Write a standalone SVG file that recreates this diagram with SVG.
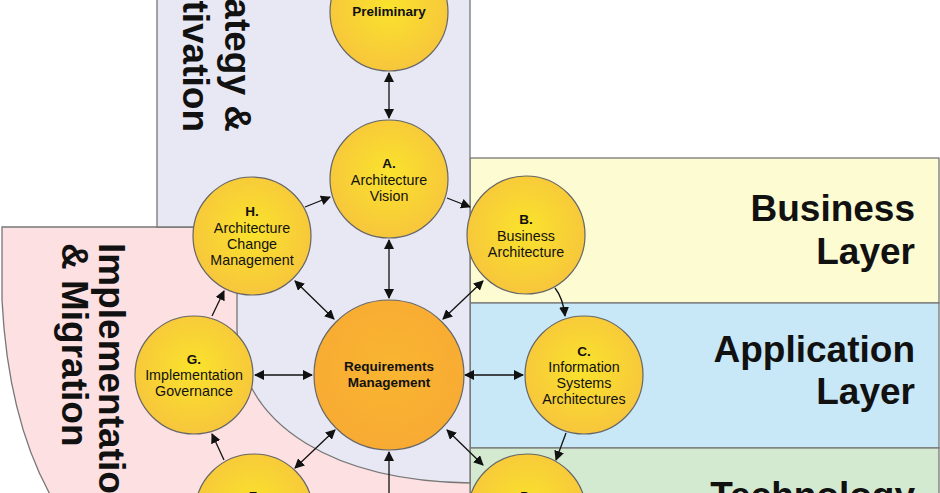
<svg xmlns="http://www.w3.org/2000/svg" width="940" height="493" viewBox="0 0 940 493">
<defs>
<radialGradient id="gy" cx="50%" cy="45%" r="55%"><stop offset="0" stop-color="#fae32c"/><stop offset="1" stop-color="#f7c63c"/></radialGradient>
<radialGradient id="go" cx="50%" cy="45%" r="55%"><stop offset="0" stop-color="#f9b531"/><stop offset="1" stop-color="#f8ab33"/></radialGradient>
<marker id="ah" viewBox="0 0 10 10" refX="9" refY="5" markerWidth="10" markerHeight="10" markerUnits="userSpaceOnUse" orient="auto-start-reverse"><path d="M0,0 L10,5 L0,10 Z" fill="#111"/></marker>
</defs>
<style>
.pan{stroke:#777;stroke-width:1.3}
.n{stroke:#666;stroke-width:1.2;fill:url(#gy)}
.t{font-family:"Liberation Sans",Arial,sans-serif;font-size:14.3px;fill:#111;text-anchor:middle}
.b{font-weight:bold;font-size:13.5px}
.big{font-family:"Liberation Sans",Arial,sans-serif;font-size:37px;font-weight:bold;fill:#111}
.c line,.c path{stroke:#111;stroke-width:1.3;fill:none}
</style>
<rect width="940" height="493" fill="#fff"/>
<g id="panels">
<rect class="pan" x="470" y="158" width="469" height="145" fill="#fdfbd2"/>
<rect class="pan" x="470" y="303" width="469" height="145" fill="#c8e8f8"/>
<rect class="pan" x="470" y="448" width="469" height="50" fill="#d4ead0"/>
<path class="pan" d="M2,227 L470,227 L470,498 L52,498 Q8,420 2,300 Z" fill="#fde0e2"/>
<path class="pan" d="M157,-2 L470,-2 L470,483 C340,481 240,430 237,330 L237,227 L157,227 Z" fill="#e8e8f4"/>
<text class="big" x="915" y="221" text-anchor="end">Business</text>
<text class="big" x="915" y="264" text-anchor="end">Layer</text>
<text class="big" x="915" y="362" text-anchor="end">Application</text>
<text class="big" x="915" y="404" text-anchor="end">Layer</text>
<text class="big" x="915" y="508" text-anchor="end">Technology</text>
<text class="big" transform="translate(225,132) rotate(90)" text-anchor="end">Strategy &amp;</text>
<text class="big" transform="translate(183,132) rotate(90)" text-anchor="end">Motivation</text>
<text class="big" transform="translate(99,243) rotate(90)">Implementation</text>
<text class="big" transform="translate(62,243) rotate(90)">&amp; Migration</text>
</g>
<g class="c" id="connectors">
<line x1="389" y1="73" x2="389" y2="118" marker-start="url(#ah)" marker-end="url(#ah)"/>
<line x1="389" y1="240" x2="389" y2="298" marker-start="url(#ah)" marker-end="url(#ah)"/>
<line x1="305" y1="207" x2="330" y2="197" marker-end="url(#ah)"/>
<line x1="447" y1="198" x2="470" y2="207" marker-end="url(#ah)"/>
<path d="M555,288 Q563,298 565,316" marker-end="url(#ah)"/>
<line x1="566" y1="433" x2="556" y2="460" marker-end="url(#ah)"/>
<line x1="447" y1="430" x2="483" y2="465" marker-start="url(#ah)" marker-end="url(#ah)"/>
<line x1="389" y1="495" x2="389" y2="452" marker-end="url(#ah)"/>
<line x1="295" y1="468" x2="335" y2="430" marker-start="url(#ah)" marker-end="url(#ah)"/>
<line x1="224" y1="460" x2="212" y2="434" marker-end="url(#ah)"/>
<line x1="255" y1="375" x2="312" y2="375" marker-start="url(#ah)" marker-end="url(#ah)"/>
<line x1="212" y1="316" x2="224" y2="291" marker-end="url(#ah)"/>
<line x1="295" y1="281" x2="334" y2="319" marker-start="url(#ah)" marker-end="url(#ah)"/>
<line x1="443" y1="319" x2="483" y2="281" marker-start="url(#ah)" marker-end="url(#ah)"/>
<line x1="465" y1="375" x2="523" y2="375" marker-start="url(#ah)" marker-end="url(#ah)"/>
</g>
<g id="prelim"><circle class="n" cx="389" cy="12" r="59"/><text class="t b" x="389" y="16">Preliminary</text></g>
<g id="nodeA"><circle class="n" cx="389" cy="179" r="59"/><text class="t b" x="389" y="168">A.</text><text class="t" x="389" y="185">Architecture</text><text class="t" x="389" y="201">Vision</text></g>
<g id="nodeH"><circle class="n" cx="252" cy="236" r="59"/><text class="t b" x="252" y="216">H.</text><text class="t" x="252" y="233">Architecture</text><text class="t" x="252" y="249">Change</text><text class="t" x="252" y="265">Management</text></g>
<g id="nodeB"><circle class="n" cx="526" cy="235" r="59"/><text class="t b" x="526" y="224">B.</text><text class="t" x="526" y="241">Business</text><text class="t" x="526" y="257">Architecture</text></g>
<g id="nodeC"><circle class="n" cx="584" cy="375" r="59"/><text class="t b" x="584" y="356">C.</text><text class="t" x="584" y="372">Information</text><text class="t" x="584" y="388">Systems</text><text class="t" x="584" y="404">Architectures</text></g>
<g id="req"><circle class="n" cx="389" cy="375" r="75" style="fill:url(#go)"/><text class="t b" x="389" y="371">Requirements</text><text class="t b" x="389" y="387">Management</text></g>
<g id="nodeG"><circle class="n" cx="194" cy="375" r="59"/><text class="t b" x="194" y="364">G.</text><text class="t" x="194" y="380">Implementation</text><text class="t" x="194" y="396">Governance</text></g>
<g id="nodeF"><circle class="n" cx="254" cy="513" r="59"/><text class="t b" x="254" y="501">F.</text></g>
<g id="nodeD"><circle class="n" cx="527" cy="513" r="59"/><text class="t b" x="527" y="501">D.</text></g>
</svg>
